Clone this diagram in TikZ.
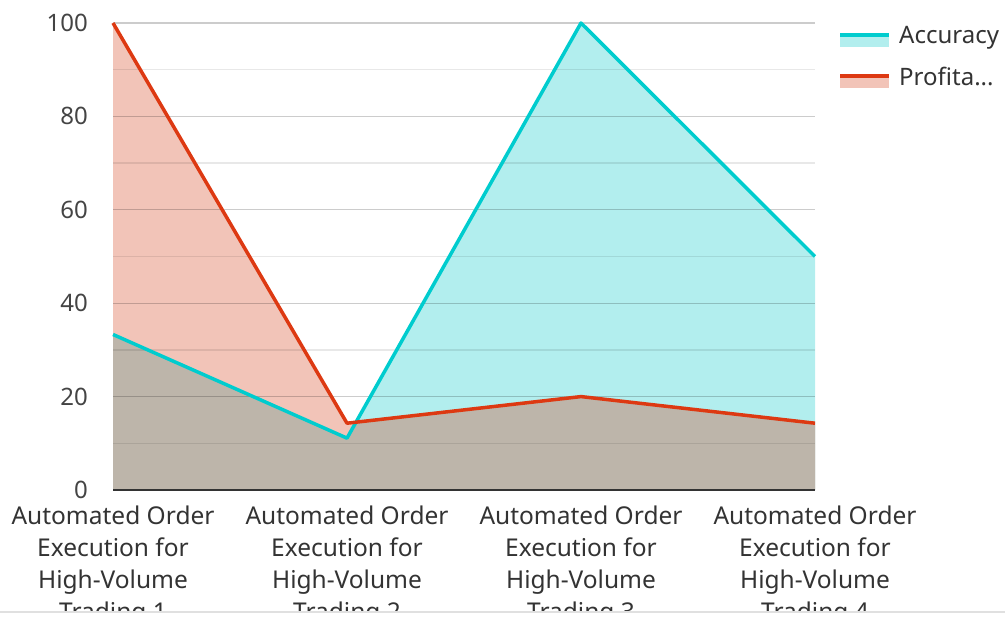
\documentclass[tikz,border=0pt]{standalone}
\usepackage{fontspec}
\setmainfont{Noto Sans}
\definecolor{acccol}{RGB}{0,204,206}
\definecolor{accfill}{RGB}{178,238,238}
\definecolor{profcol}{RGB}{221,57,18}
\definecolor{proffill}{RGB}{242,196,184}
\definecolor{bothfill}{RGB}{189,181,170}
\definecolor{ticktext}{RGB}{68,68,68}
\definecolor{cattext}{RGB}{51,51,51}
\tikzset{
  series/.style={line width=3.5pt, line join=round},
  gridmajor/.style={black, opacity=0.2, line width=1.3pt},
  gridminor/.style={black, opacity=0.09, line width=1.3pt},
  ticklabel/.style={anchor=east, inner sep=0pt, text=ticktext,
    font=\fontsize{24}{32}\selectfont},
  catlabel/.style={anchor=north, inner sep=0pt, align=center, text=cattext,
    font=\fontsize{24.5}{32}\selectfont},
  legendtext/.style={anchor=west, inner sep=0pt, text=cattext,
    font=\fontsize{24}{32}\selectfont}
}
\begin{document}
\begin{tikzpicture}[x=1pt,y=1pt]
  \useasboundingbox (0,0) rectangle (1005,617);

  % Data points, in category / percent units
  \begin{scope}[shift={(113,127)}, x=234pt, y=4.67pt]
    \coordinate (base1) at (0,0);
    \coordinate (base4) at (3,0);
    \coordinate (acc1)  at (0,33.3);
    \coordinate (acc2)  at (1,11.1);
    \coordinate (acc3)  at (2,100);
    \coordinate (acc4)  at (3,50);
    \coordinate (prof1) at (0,100);
    \coordinate (prof2) at (1,14.3);
    \coordinate (prof3) at (2,20);
    \coordinate (prof4) at (3,14.3);
    \coordinate (cross) at (1.0385,14.52);
    \foreach \v in {0,20,...,100}
      \node[ticklabel] (tick\v) at (-25pt,\v) {\v};
  \end{scope}

  % Areas
  \fill[proffill] (base1) -- (prof1) -- (prof2) -- (prof3) -- (prof4) -- (base4) -- cycle;
  \fill[accfill] (base1) -- (acc1) -- (acc2) -- (acc3) -- (acc4) -- (base4) -- cycle;
  \fill[bothfill] (base1) -- (acc1) -- (acc2) -- (cross) -- (prof3) -- (prof4) -- (base4) -- cycle;

  % Grid
  \foreach \v in {10,30,...,90}
    \draw[gridminor] (113,127+4.67*\v) -- (815,127+4.67*\v);
  \foreach \v in {20,40,...,100}
    \draw[gridmajor] (113,127+4.67*\v) -- (815,127+4.67*\v);
  \draw[line width=2.5pt, cattext] (base1) -- (base4);

  % Series
  \draw[series, acccol] (acc1) -- (acc2) -- (acc3) -- (acc4);
  \draw[series, profcol] (prof1) -- (prof2) -- (prof3) -- (prof4);

  % Category labels
  \begin{scope}
    \clip (0,6) rectangle (1005,617);
    \foreach \i/\x in {1/113,2/347,3/581,4/815}
      \node[catlabel] (cat\i) at (\x,111) {Automated Order\\Execution for\\High-Volume\\Trading \i};
  \end{scope}
  \draw[line width=1.5pt, black!12] (0,5) -- (1005,5);

  % Legend
  \fill[accfill] (840,582) rectangle (889,570);
  \draw[line width=4pt, acccol] (840,582) -- (889,582);
  \node[legendtext] (legacc) at (899,579) {Accuracy};
  \fill[proffill] (840,541) rectangle (889,529);
  \draw[line width=4pt, profcol] (840,541) -- (889,541);
  \node[legendtext] (legprof) at (899,541) {Profita...};
\end{tikzpicture}
\end{document}
